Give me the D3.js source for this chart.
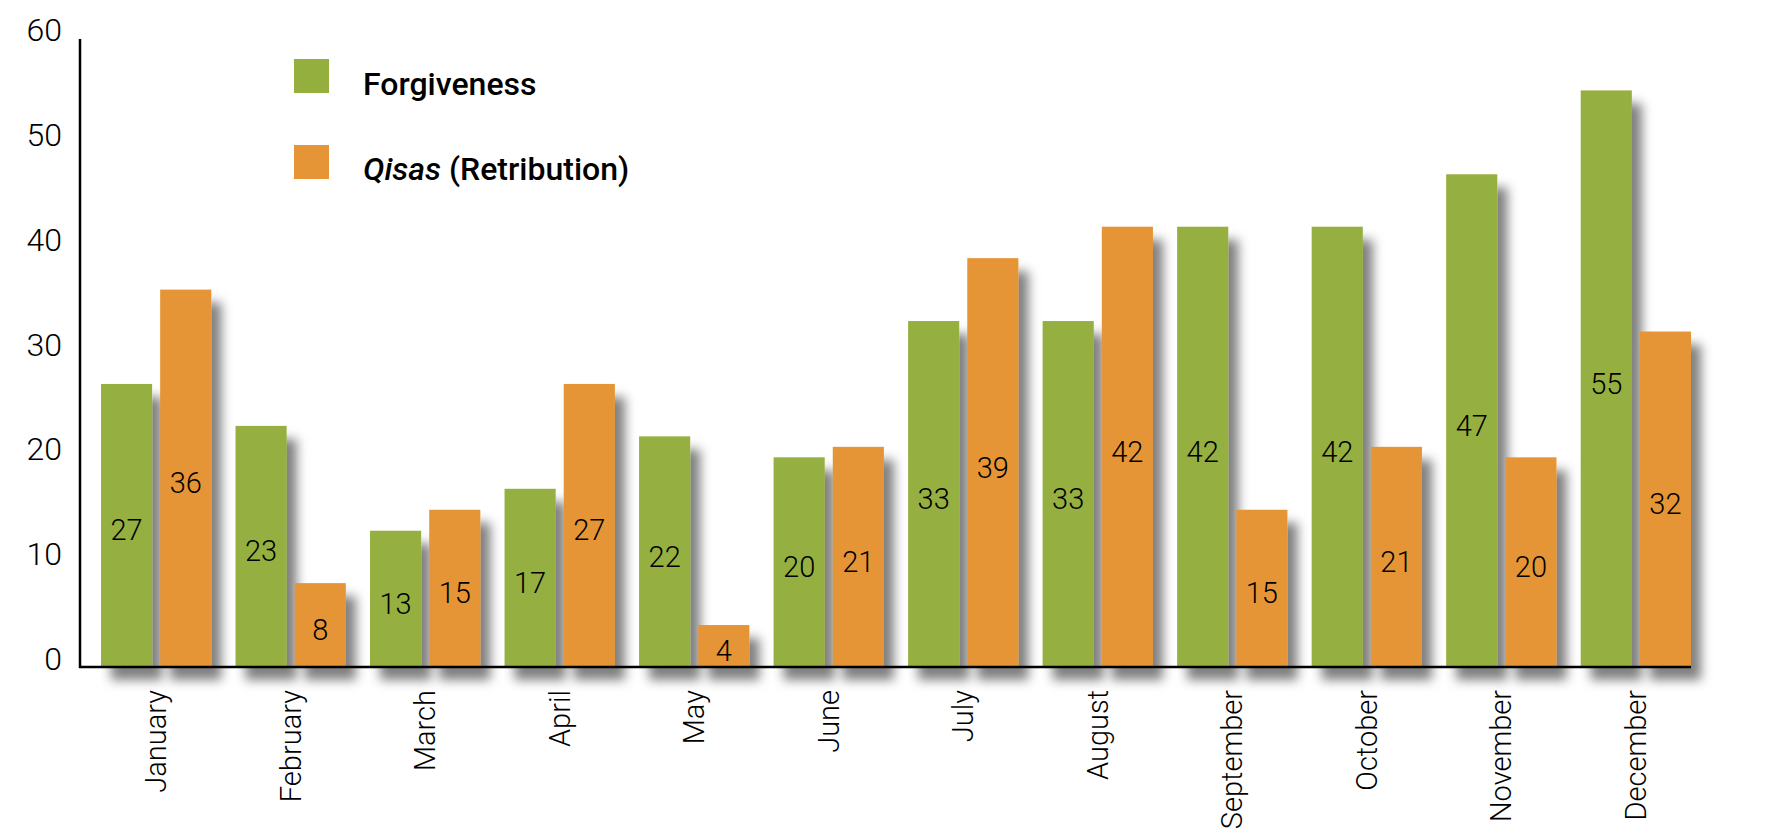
<!DOCTYPE html>
<html>
<head>
<meta charset="utf-8">
<script src="https://cdn.jsdelivr.net/npm/d3@7"></script>
<style>
  body { margin: 0; background: #fff; }
  text { font-family: Roboto, "Liberation Sans", Arial, sans-serif; font-weight: 300; fill: #000; }
  text.legend-label { font-weight: 500; }
</style>
</head>
<body>
<div id="chart"></div>
<script>
// data
const months = ['January', 'February', 'March', 'April', 'May', 'June',
                'July', 'August', 'September', 'October', 'November', 'December'];
const forgiveness = [27, 23, 13, 17, 22, 20, 33, 33, 42, 42, 47, 55];
const qisas = [36, 8, 15, 27, 4, 21, 39, 42, 15, 21, 20, 32];
const seriesKeys = ['forgiveness', 'qisas'];
const yTicks = [0, 10, 20, 30, 40, 50, 60];

const colors = { forgiveness: '#95af3f', qisas: '#e59535' };

const width = 1768, height = 834;

const svg = d3.select('#chart')
    .append('svg')
    .attr('width', width)
    .attr('height', height);

// drop shadow for bars
const defs = svg.append('defs');
const filter = defs.append('filter')
    .attr('id', 'shadow')
    .attr('filterUnits', 'userSpaceOnUse')
    .attr('x', 0).attr('y', 0)
    .attr('width', width).attr('height', height);
filter.append('feDropShadow')
    .attr('dx', 10).attr('dy', 13)
    .attr('stdDeviation', 5.5)
    .attr('flood-color', '#000')
    .attr('flood-opacity', 0.5);

// scales
const x0 = d3.scaleBand()
    .domain(months)
    .range([101, 1691])
    .paddingInner(0.18)
    .paddingOuter(0);

const x1 = d3.scaleBand()
    .domain(seriesKeys)
    .range([0, x0.bandwidth()])
    .paddingInner(0.136)
    .paddingOuter(0);

const y = d3.scaleLinear()
    .domain([0, 60])
    .range([667, 38]);

const rows = months.map((m, i) => ({
    month: m,
    values: [
        { key: 'forgiveness', value: forgiveness[i] },
        { key: 'qisas', value: qisas[i] }
    ]
}));

// bars
const groups = svg.selectAll('g.month')
    .data(rows)
    .enter()
    .append('g')
    .attr('class', 'month')
    .attr('transform', d => `translate(${x0(d.month)},0)`);

groups.selectAll('rect')
    .data(d => d.values)
    .enter()
    .append('rect')
    .attr('x', d => x1(d.key))
    .attr('y', d => y(d.value))
    .attr('width', x1.bandwidth())
    .attr('height', d => y(0) - y(d.value))
    .attr('fill', d => colors[d.key])
    .attr('filter', 'url(#shadow)');

// value labels in the middle of each bar
groups.selectAll('text.value')
    .data(d => d.values)
    .enter()
    .append('text')
    .attr('class', 'value')
    .attr('x', d => x1(d.key) + x1.bandwidth() / 2)
    .attr('y', d => (y(d.value) + y(0)) / 2 + 5)
    .attr('text-anchor', 'middle')
    .attr('dominant-baseline', 'central')
    .style('font-size', '29px')
    .text(d => d.value);

// axes lines
svg.append('line')
    .attr('x1', 80).attr('x2', 80)
    .attr('y1', 39).attr('y2', y(0) + 1)
    .attr('stroke', '#000').attr('stroke-width', 2.5);

svg.append('line')
    .attr('x1', 79).attr('x2', x0.range()[1])
    .attr('y1', y(0)).attr('y2', y(0))
    .attr('stroke', '#000').attr('stroke-width', 2.5);

// y tick labels
svg.selectAll('text.ytick')
    .data(yTicks)
    .enter()
    .append('text')
    .attr('class', 'ytick')
    .attr('x', 62)
    .attr('y', d => y(d) - 8)
    .attr('text-anchor', 'end')
    .attr('dominant-baseline', 'central')
    .style('font-size', '32px')
    .text(d => d);

// month labels, rotated
svg.selectAll('text.xtick')
    .data(months)
    .enter()
    .append('text')
    .attr('class', 'xtick')
    .attr('text-anchor', 'end')
    .attr('dominant-baseline', 'central')
    .attr('transform', d => `translate(${x0(d) + x0.bandwidth() / 2},690) rotate(-90)`)
    .style('font-size', '29px')
    .text(d => d);

// legend
const legend = [
    { key: 'forgiveness', y: 59 },
    { key: 'qisas', y: 145 }
];
svg.selectAll('rect.legend')
    .data(legend)
    .enter()
    .append('rect')
    .attr('class', 'legend')
    .attr('x', 294)
    .attr('y', d => d.y)
    .attr('width', 35)
    .attr('height', 34)
    .attr('fill', d => colors[d.key]);

svg.append('text')
    .attr('class', 'legend-label')
    .attr('x', 363).attr('y', 95)
    .style('font-size', '32px')
    .text('Forgiveness');

const q = svg.append('text')
    .attr('class', 'legend-label')
    .attr('x', 363).attr('y', 180)
    .style('font-size', '32px');
q.append('tspan').style('font-style', 'italic').text('Qisas');
q.append('tspan').text(' (Retribution)');
</script>
</body>
</html>
